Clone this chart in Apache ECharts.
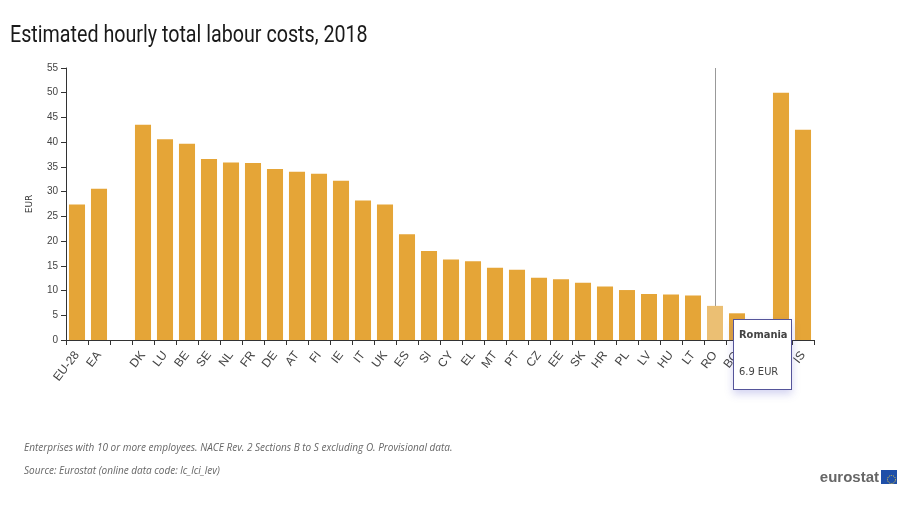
<!DOCTYPE html>
<html>
<head>
<meta charset="utf-8">
<script src="https://cdn.jsdelivr.net/npm/echarts@6/dist/echarts.min.js"></script>
<style>
  html, body { margin: 0; padding: 0; background: #fff; }
  #main { width: 900px; height: 510px; }
</style>
</head>
<body>
<div id="main"></div>
<script>
// country codes, blanks are spacer columns
const countries = ['EU-28', 'EA', '', 'DK', 'LU', 'BE', 'SE', 'NL', 'FR', 'DE', 'AT', 'FI', 'IE', 'IT', 'UK', 'ES', 'SI', 'CY', 'EL', 'MT', 'PT', 'CZ', 'EE', 'SK', 'HR', 'PL', 'LV', 'HU', 'LT', 'RO', 'BG', '', 'NO', 'IS'];
const countryNames = ['EU-28', 'Euro area', '', 'Denmark', 'Luxembourg', 'Belgium', 'Sweden', 'Netherlands', 'France', 'Germany', 'Austria', 'Finland', 'Ireland', 'Italy', 'United Kingdom', 'Spain', 'Slovenia', 'Cyprus', 'Greece', 'Malta', 'Portugal', 'Czechia', 'Estonia', 'Slovakia', 'Croatia', 'Poland', 'Latvia', 'Hungary', 'Lithuania', 'Romania', 'Bulgaria', '', 'Norway', 'Iceland'];
const labourCost = [27.4, 30.6, null, 43.5, 40.6, 39.7, 36.6, 35.9, 35.8, 34.6, 34.0, 33.6, 32.2, 28.2, 27.4, 21.4, 18.0, 16.3, 15.9, 14.6, 14.2, 12.6, 12.3, 11.6, 10.8, 10.1, 9.3, 9.2, 9.0, 6.9, 5.4, null, 50.0, 42.5];
const yTicks = [0, 55, 5]; // min, max, step

const hoverIndex = countries.indexOf('RO');
const myChart = echarts.init(document.getElementById('main'));

const option = {
  animation: false,
  tooltip: {
    trigger: 'axis',
    alwaysShowContent: true,
    backgroundColor: '#fff',
    borderColor: '#55559a',
    borderWidth: 1,
    borderRadius: 0,
    padding: [8, 3, 10, 5],
    extraCssText: 'box-shadow: 0 4px 8px rgba(80,80,200,0.25);',
    axisPointer: {
      type: 'line',
      z: 0,
      lineStyle: { color: '#999', width: 1, type: 'solid' },
    },
    position() {
      return [733, 319];
    },
    formatter(params) {
      const p = params[0];
      return '<div style="font-family:\'DejaVu Sans Condensed\',Roboto;font-size:11px;color:#444;line-height:14px">'
        + `<div style="font-weight:bold">${countryNames[p.dataIndex]}</div>`
        + `<div style="margin-top:23px">${p.value} EUR</div></div>`;
    },
  },
  grid: {
    left: 66,
    right: 86,
    top: 68,
    bottom: 170,
  },
  xAxis: [{
    type: 'category',
    data: countries,
    axisLine: { lineStyle: { color: '#333' } },
    axisTick: { show: true, length: 5, lineStyle: { color: '#333' } },
    axisLabel: {
      rotate: 52,
      interval: 0,
      fontFamily: 'Liberation Sans',
      fontSize: 12,
      color: '#444',
      margin: 13,
      padding: [0, 0, 0, 0],
    },
  }],
  yAxis: [{
    type: 'value',
    min: yTicks[0],
    max: yTicks[1],
    interval: yTicks[2],
    name: 'EUR',
    nameLocation: 'middle',
    nameGap: 32,
    nameTextStyle: { fontFamily: 'DejaVu Sans', fontSize: 9, color: '#333' },
    splitLine: { show: false },
    axisLine: { show: true, lineStyle: { color: '#333' } },
    axisTick: { show: true, length: 5, lineStyle: { color: '#333' } },
    axisLabel: {
      fontFamily: 'Liberation Sans',
      fontSize: 10,
      color: '#444',
      margin: 8,
    },
  }],
  series: [{
    type: 'bar',
    data: labourCost,
    barCategoryGap: '27%',
    itemStyle: { color: '#e5a537' },
    emphasis: {
      itemStyle: { color: '#ebbf73' },
    },
    z: 2,
  }],
  graphic: [
    {
      // condensed title: squeeze Roboto horizontally
      type: 'text',
      x: 10,
      y: 24,
      scaleX: 0.82,
      style: {
        text: 'Estimated hourly total labour costs, 2018',
        fontFamily: 'Roboto',
        fontSize: 24,
        fill: '#1a1a1a',
      },
    },
    {
      type: 'text',
      left: 24,
      top: 443,
      style: {
        text: 'Enterprises with 10 or more employees. NACE Rev. 2 Sections B to S excluding O. Provisional data.',
        fontFamily: 'Open Sans',
        fontStyle: 'italic',
        fontSize: 10,
        fill: '#666',
      },
    },
    {
      type: 'text',
      left: 24,
      top: 466,
      style: {
        text: 'Source: Eurostat (online data code: lc_lci_lev)',
        fontFamily: 'Open Sans',
        fontStyle: 'italic',
        fontSize: 10,
        fill: '#666',
      },
    },
    {
      type: 'text',
      right: 21,
      top: 470,
      style: {
        text: 'eurostat',
        fontFamily: 'Liberation Sans',
        fontWeight: 'bold',
        fontSize: 15,
        fill: '#666',
      },
    },
    {
      type: 'rect',
      left: 881,
      top: 470,
      shape: { width: 16, height: 14 },
      style: { fill: '#1f4fa8' },
    },
    {
      type: 'circle',
      left: 885,
      top: 473,
      shape: { r: 4 },
      style: { fill: 'none', stroke: '#f3d23a', lineWidth: 1, lineDash: [1, 1] },
    },
  ],
};

myChart.setOption(option, true);
myChart.dispatchAction({ type: 'showTip', seriesIndex: 0, dataIndex: hoverIndex });
myChart.dispatchAction({ type: 'highlight', seriesIndex: 0, dataIndex: hoverIndex });
</script>
</body>
</html>
